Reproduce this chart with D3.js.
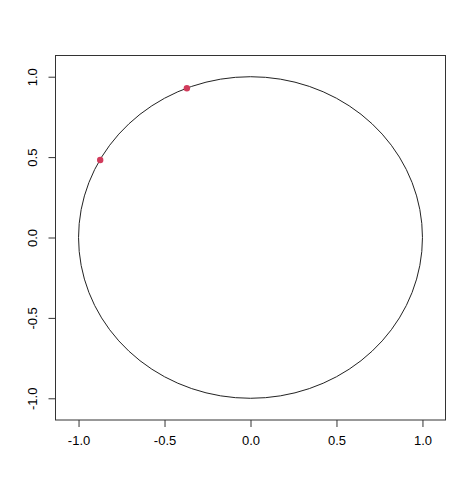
<!DOCTYPE html>
<html><head><meta charset="utf-8">
<script src="https://cdn.jsdelivr.net/npm/d3@7"></script>
<style>body{margin:0;background:#fff}text{font-family:"Liberation Sans",Arial,sans-serif;font-size:13px;fill:#000}</style>
</head><body><svg id="c" width="474" height="489"></svg>
<script>
var ticks = [-1.0, -0.5, 0.0, 0.5, 1.0];
var tickLabels = ["-1.0", "-0.5", "0.0", "0.5", "1.0"];
var pointX = [-0.37, -0.874];
var pointY = [0.928, 0.482];
var circleSteps = 72;

var svg = d3.select("#c");
var x = d3.scaleLinear().domain([-1.134, 1.134]).range([55.5, 445.5]);
var y = d3.scaleLinear().domain([-1.135, 1.135]).range([420, 55]);

// circle drawn as polygon like R
var angles = d3.range(circleSteps + 1).map(i => 2 * Math.PI * i / circleSteps);
svg.append("path")
    .attr("d", d3.line().x(a => x(Math.cos(a))).y(a => y(Math.sin(a)))(angles))
    .attr("fill", "none").attr("stroke", "#222").attr("stroke-width", 1);

svg.selectAll(".pt").data(pointX).enter().append("circle")
    .attr("cx", d => x(d)).attr("cy", (d, i) => y(pointY[i]))
    .attr("r", 3.2).attr("fill", "#D13B5B");

svg.append("rect").attr("x", 55.5).attr("y", 55.5).attr("width", 390).attr("height", 364.5)
    .attr("fill", "none").attr("stroke", "#333");

var xa = svg.append("g").attr("transform", "translate(0,420)")
    .call(d3.axisBottom(x).tickValues(ticks).tickSize(7).tickPadding(9).tickFormat((d, i) => tickLabels[i]));
var ya = svg.append("g").attr("transform", "translate(55.5,0)")
    .call(d3.axisLeft(y).tickValues(ticks).tickSize(7).tickPadding(8).tickFormat((d, i) => tickLabels[i]));
[xa, ya].forEach(g => { g.select(".domain").remove(); g.selectAll("line").attr("stroke", "#333"); g.selectAll("text").style("font-size", "13px"); });
ya.selectAll(".tick text").attr("text-anchor", "middle").attr("x", null).attr("dy", null)
    .attr("transform", "translate(-19,0) rotate(-90)");
</script></body></html>
